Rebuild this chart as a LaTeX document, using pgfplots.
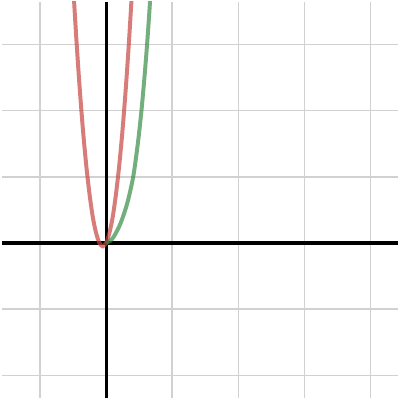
\documentclass[border=0pt]{standalone}
\usepackage{pgfplots}
\pgfplotsset{compat=1.18}
\definecolor{dred}{RGB}{199,68,64}
\definecolor{dgreen}{RGB}{56,140,70}
\begin{document}
\begin{tikzpicture}
\begin{axis}[
    scale only axis,
    width=300pt, height=300pt,
    xmin=-1.58, xmax=4.42,
    ymin=-2.35, ymax=3.65,
    enlargelimits=false,
    axis lines=middle,
    axis line style={-, line width=2.3pt, black},
    xtick={-1,0,1,2,3,4},
    ytick={-2,-1,0,1,2,3},
    xticklabels={}, yticklabels={},
    major tick length=0pt,
    grid=major,
    grid style={line width=1.2pt, black!18},
]
\addplot[smooth, line width=3pt, dred, opacity=0.7]
    coordinates {
    (-0.50,3.94)(-0.45,3.10)(-0.40,2.36)(-0.35,1.72)(-0.30,1.18)
    (-0.25,0.74)(-0.20,0.39)(-0.15,0.15)(-0.10,0.00)(-0.05,-0.05)
    (0.00,0.00)(0.05,0.15)(0.10,0.39)(0.15,0.74)(0.20,1.18)
    (0.25,1.72)(0.30,2.36)(0.35,3.10)(0.40,3.94)
    };
\addplot[smooth, line width=3pt, dgreen, opacity=0.7]
    coordinates {
    (0.00,0.00)(0.06,0.03)(0.12,0.10)(0.22,0.30)(0.32,0.60)
    (0.41,1.00)(0.48,1.50)(0.535,2.00)(0.58,2.50)(0.62,3.00)
    (0.655,3.50)(0.68,3.90)
    };
\end{axis}
\end{tikzpicture}
\end{document}
